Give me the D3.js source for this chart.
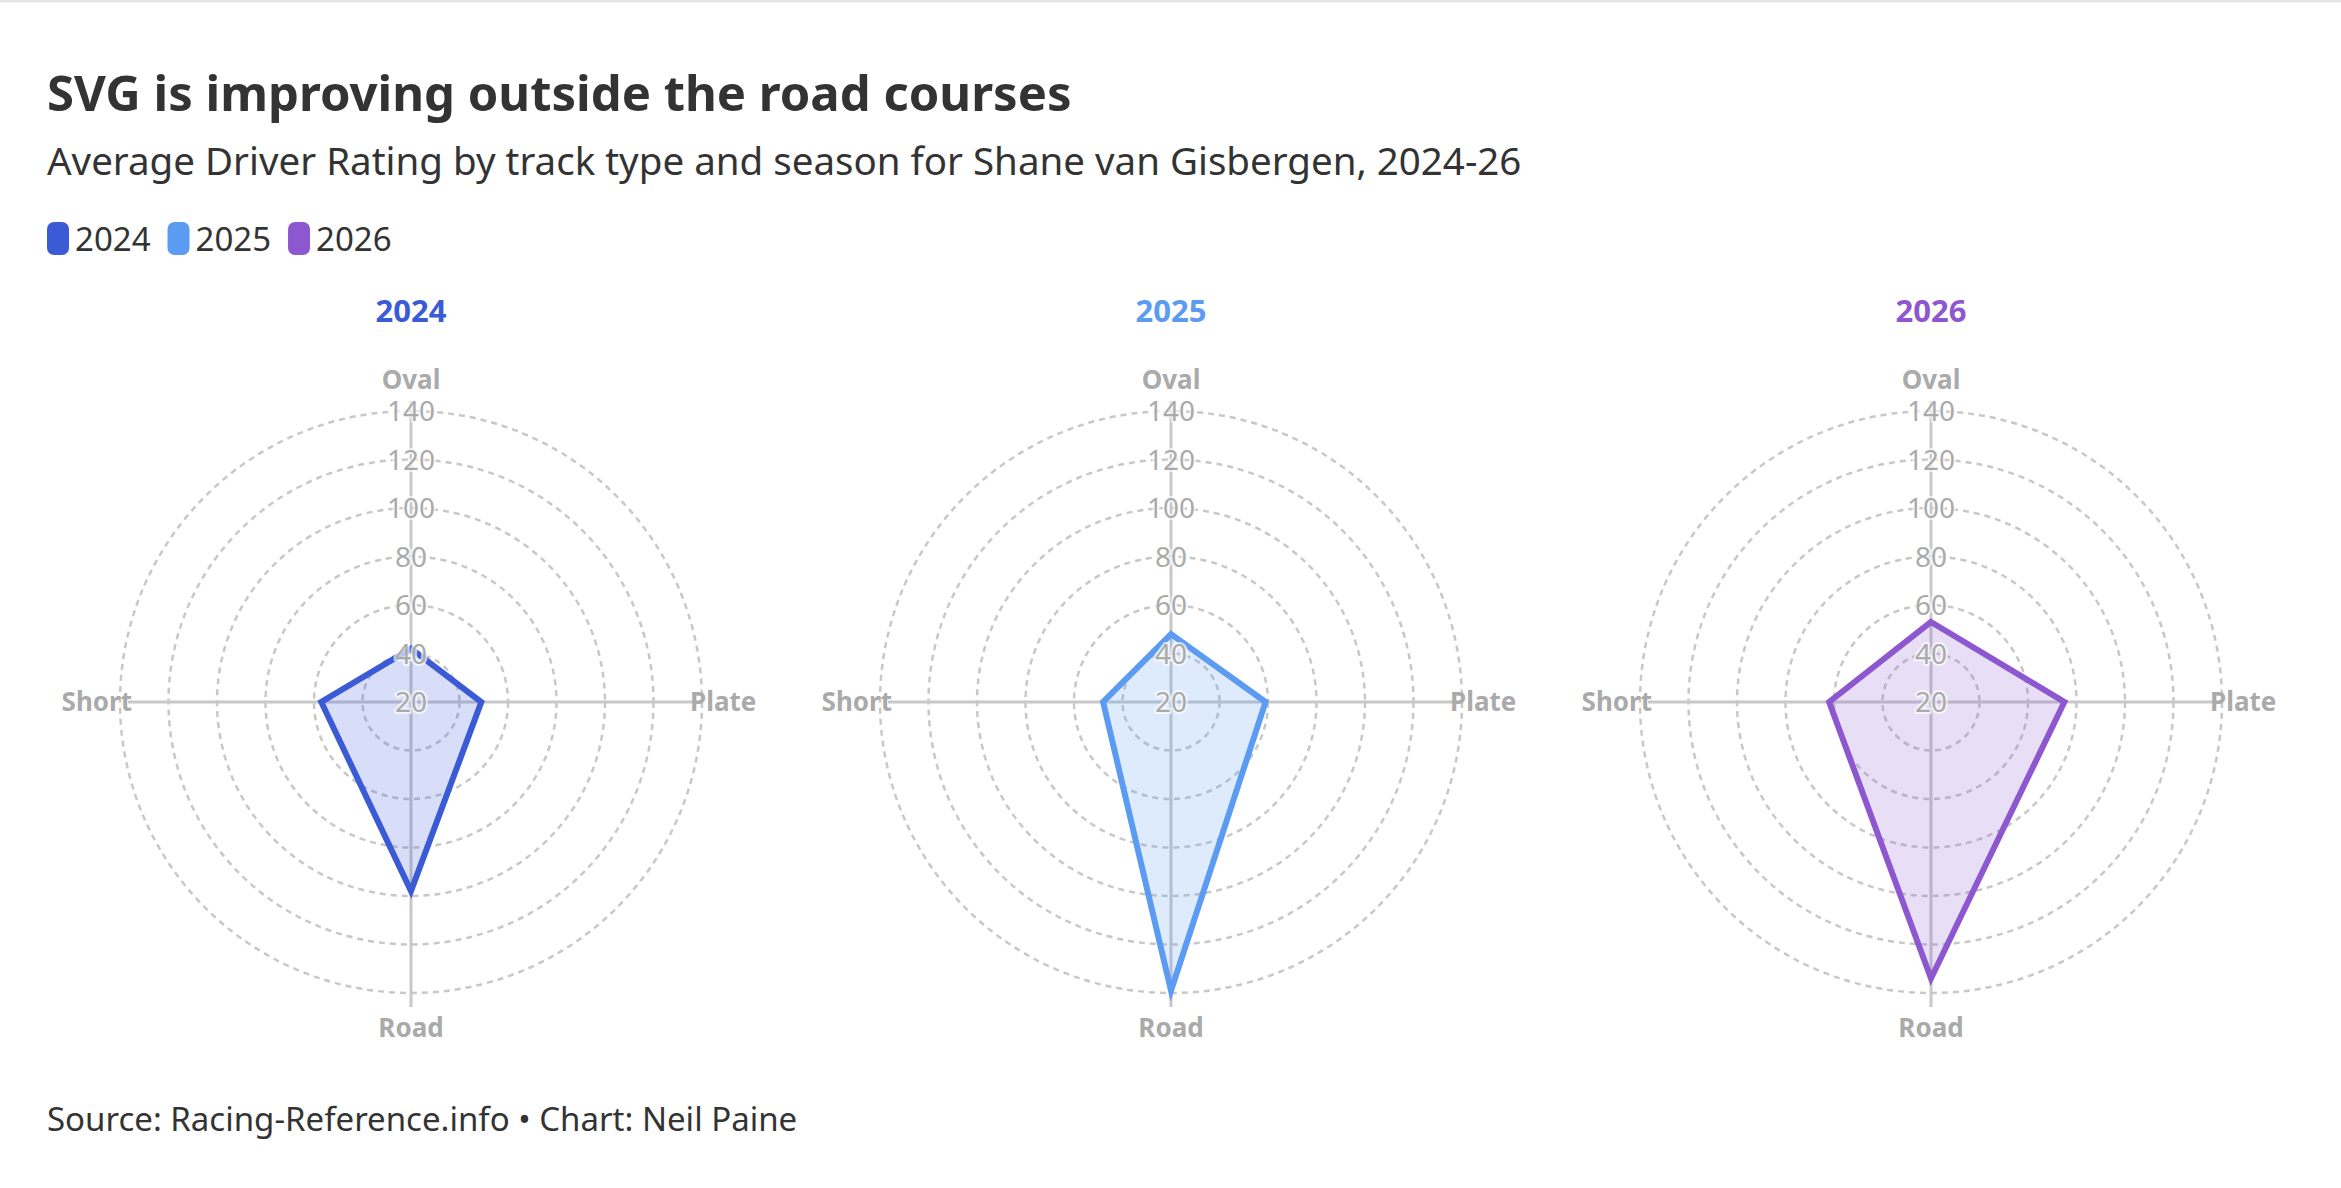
<!DOCTYPE html>
<html>
<head>
<meta charset="utf-8">
<script src="https://cdn.jsdelivr.net/npm/d3@7"></script>
<style>
  body { margin: 0; background: #fff; }
  svg { font-family: "Noto Sans", "Open Sans", sans-serif; }
</style>
</head>
<body>
<svg id="chart" width="2341" height="1188"></svg>
<script>
// data
const seasons = ['2024', '2025', '2026'];
const trackTypes = ['Oval', 'Plate', 'Road', 'Short'];
const rating2024 = [42, 49, 98, 57];
const rating2025 = [48, 59, 139, 48];
const rating2026 = [53, 75, 134, 62];
const ringTicks = [20, 40, 60, 80, 100, 120, 140];
const seasonColors = ['#3b5bd6', '#5b9bf2', '#8d58cf'];

const ratings = [rating2024, rating2025, rating2026];
const width = 2341, height = 1188;
const centersX = [411, 1171, 1931];
const centerY = 702;
const R = 291;

const svg = d3.select('#chart');
svg.append('rect').attr('width', width).attr('height', height).attr('fill', '#fff');
svg.append('line').attr('x1', 0).attr('x2', width).attr('y1', 1).attr('y2', 1)
    .attr('stroke', '#e6e6e6').attr('stroke-width', 3);

svg.append('text').attr('x', 47).attr('y', 111)
    .attr('font-size', 49).attr('font-weight', 700).attr('fill', '#333')
    .text('SVG is improving outside the road courses');
svg.append('text').attr('x', 47).attr('y', 175)
    .attr('font-size', 38.5).attr('fill', '#333')
    .text('Average Driver Rating by track type and season for Shane van Gisbergen, 2024-26');

// legend
let lx = 47;
seasons.forEach((s, i) => {
    svg.append('rect').attr('x', lx).attr('y', 222).attr('width', 22).attr('height', 33)
        .attr('rx', 7).attr('fill', seasonColors[i]);
    let t = svg.append('text').attr('x', lx + 28).attr('y', 251)
        .attr('font-size', 33).attr('fill', '#333').text(s);
    lx += 28 + t.node().getComputedTextLength() + 17;
});

const r = d3.scaleLinear().domain([20, 140]).range([0, R]);
const angle = d3.scalePoint().domain(trackTypes).range([0, 2 * Math.PI * 3 / 4]);

seasons.forEach((s, i) => {
    const g = svg.append('g').attr('transform', `translate(${centersX[i]},${centerY})`);

    g.append('text').attr('y', -380).attr('text-anchor', 'middle')
        .attr('font-size', 31).attr('font-weight', 700).attr('fill', seasonColors[i]).text(s);

    g.selectAll('circle.ring').data(ringTicks.slice(1)).join('circle')
        .attr('class', 'ring').attr('r', d => r(d)).attr('fill', 'none')
        .attr('stroke', '#c8c8c8').attr('stroke-width', 2.5).attr('stroke-dasharray', '6,5');

    // axes
    g.append('line').attr('x1', 0).attr('x2', 0).attr('y1', -R - 10).attr('y2', R + 14)
        .attr('stroke', '#c8c8c8').attr('stroke-width', 3);
    g.append('line').attr('x1', -R + 8).attr('x2', R - 8).attr('y1', 0).attr('y2', 0)
        .attr('stroke', '#c8c8c8').attr('stroke-width', 3);

    const labelStyle = sel => sel.attr('font-size', 26).attr('font-weight', 700).attr('fill', '#aaa');
    g.append('text').attr('y', -R - 22).attr('text-anchor', 'middle').text('Oval').call(labelStyle);
    g.append('text').attr('y', R + 44).attr('text-anchor', 'middle').text('Road').call(labelStyle);
    g.append('text').attr('x', R - 12).attr('y', 9).attr('text-anchor', 'start').text('Plate').call(labelStyle);
    g.append('text').attr('x', -R + 12).attr('y', 9).attr('text-anchor', 'end').text('Short').call(labelStyle);

    const pts = trackTypes.map((k, j) => {
        const a = angle(k), rr = r(ratings[i][j]);
        return [Math.sin(a) * rr, -Math.cos(a) * rr];
    });
    g.append('path').attr('d', d3.line()(pts) + 'Z')
        .attr('fill', seasonColors[i]).attr('fill-opacity', 0.2)
        .attr('stroke', seasonColors[i]).attr('stroke-width', 6).attr('stroke-linejoin', 'miter');

    g.selectAll('text.tick').data(ringTicks).join('text')
        .attr('class', 'tick').attr('y', d => -r(d) + 10).attr('text-anchor', 'middle')
        .attr('font-size', 28).attr('fill', '#aaa')
        .attr('stroke', '#fff').attr('stroke-width', 4).attr('paint-order', 'stroke')
        .attr('stroke-opacity', 0.7)
        .text(d => d);
});

svg.append('text').attr('x', 47).attr('y', 1131)
    .attr('font-size', 33).attr('fill', '#333')
    .text('Source: Racing-Reference.info • Chart: Neil Paine');
</script>
</body>
</html>
